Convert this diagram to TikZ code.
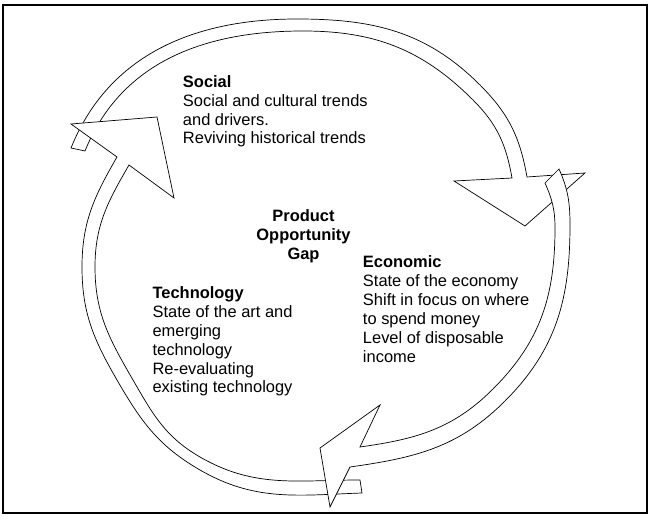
\documentclass[tikz,border=0pt]{standalone}
\usepackage{fontspec}
\setmainfont{Liberation Sans}
\begin{document}
\begin{tikzpicture}[scale=1.0,
		band/.style={draw=black, fill=white, line width=0.5pt},
		txt/.style={inner sep=0pt, align=left, font=\fontsize{11.7}{13.5}\selectfont},
		head/.style={inner sep=0pt, align=center, font=\fontsize{11.7}{13.5}\selectfont\bfseries}]
				\useasboundingbox (0,0) rectangle (16.3,13.1);
				\draw [line width=1.1pt] (0.075,0.275) rectangle (16.175,12.975);
				
				% social arrow (top)
				\draw [band] (1.775,9.40) to [out=68, in=180] (7.425,12.625) to [out=0, in=135] (12.0,10.975) to [out=-45, in=100] (13.175,8.675) -- (14.625,8.775) -- (13.125,7.45) -- (11.35,8.575) -- (12.80,8.65) to [out=100, in=-45] (11.825,10.6) to [out=135, in=0] (7.575,12.325) to [out=180, in=68] (2.125,9.325) -- cycle;
				% technology arrow (left)
				\draw [band] (9.05,0.775) to [out=182, in=-30] (5.0,1.35) to [out=150, in=-60] (2.925,3.6) to [out=120, in=-90] (2.05,6.425) to [out=90, in=240] (2.925,9.175) -- (1.775,10.0) -- (3.925,10.175) -- (4.35,8.15) -- (3.225,8.975) to [out=240, in=90] (2.375,6.425) to [out=-90, in=120] (3.325,3.6) to [out=-60, in=150] (5.0,1.675) to [out=-30, in=180] (9.0,1.10) -- cycle;
				% economic arrow (right)
				\draw [band] (13.975,8.875) to [out=-66, in=90] (14.25,7.475) to [out=-90, in=45] (12.625,3.075) to [out=225, in=8] (8.75,1.425) -- (8.25,0.425) -- (8.0,1.90) -- (9.5,2.975) -- (9.0,1.925) to [out=8, in=225] (12.325,3.375) to [out=45, in=-90] (13.875,7.40) to [out=90, in=-66] (13.625,8.525) -- cycle;
				
				% base anchor sits on the last line
				\node [txt, anchor=base west] (social) at (4.5675,9.5) {\textbf{Social}\\Social and cultural trends\\and drivers.\\Reviving historical trends};
				\node [head, anchor=base] (gap) at (7.5875,6.6175) {Product\\Opportunity\\Gap};
				\node [txt, anchor=base west] (economic) at (9.0675,4.0425) {\textbf{Economic}\\State of the economy\\Shift in focus on where\\to spend money\\Level of disposable\\income};
				\node [txt, anchor=base west] (technology) at (3.8075,3.275) {\textbf{Technology}\\State of the art and\\emerging\\technology\\Re-evaluating\\existing technology};
			\end{tikzpicture}
\end{document}
